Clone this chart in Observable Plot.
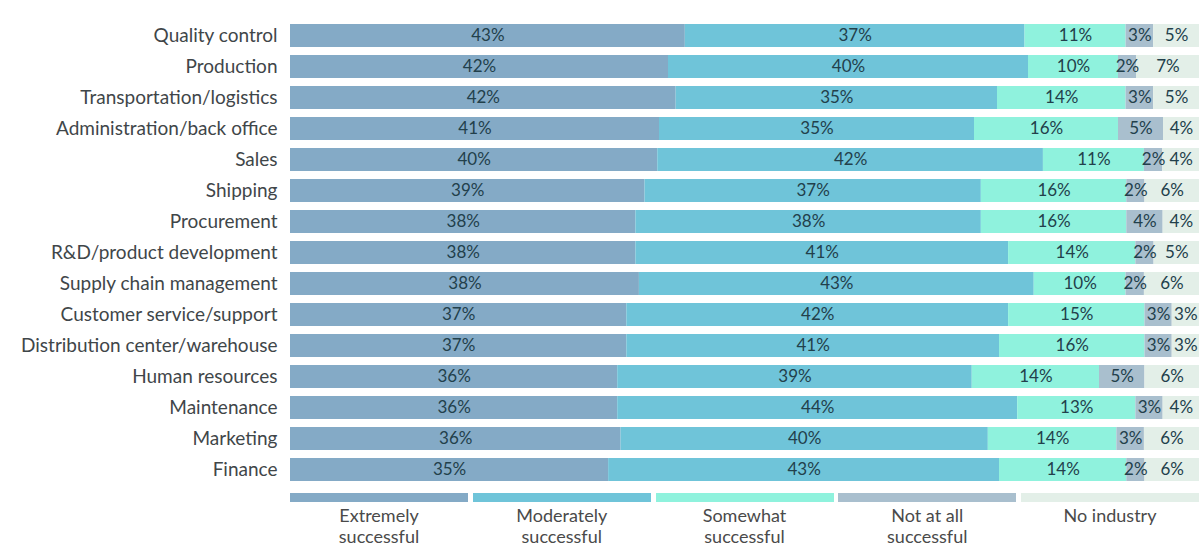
<!DOCTYPE html>
<html>
<head>
<meta charset="utf-8">
<script src="https://cdn.jsdelivr.net/npm/d3@7"></script>
<script src="https://cdn.jsdelivr.net/npm/@observablehq/plot@0.6"></script>
<style>
  html, body { margin: 0; padding: 0; background: #fff; }
  body { width: 1200px; height: 555px; position: relative; overflow: hidden; font-family: Lato, "Open Sans", sans-serif; }
  #chart { position: absolute; left: 0; top: 0; }
  #legend { position: absolute; left: 290px; top: 493px; width: 909px; display: flex; justify-content: space-between; }
  .item { width: 178px; text-align: center; color: #4a4a4a; font-size: 18px; line-height: 21px; }
  .swatch { height: 9px; margin-bottom: 3px; }
</style>
</head>
<body>
<div id="chart"></div>
<div id="legend"></div>
<script>
// Business functions surveyed, top to bottom
const categories = [
  "Quality control", "Production", "Transportation/logistics", "Administration/back office",
  "Sales", "Shipping", "Procurement", "R&D/product development", "Supply chain management",
  "Customer service/support", "Distribution center/warehouse", "Human resources",
  "Maintenance", "Marketing", "Finance"
];

// Response levels, in stacking order
const series = ["Extremely successful", "Moderately successful", "Somewhat successful", "Not at all successful", "No industry"];
const legendLabels = [["Extremely", "successful"], ["Moderately", "successful"], ["Somewhat", "successful"], ["Not at all", "successful"], ["No industry"]];
const colors = ["#84aac6", "#6fc4d9", "#8ff2dd", "#a9bfce", "#e3efe8"];

// Share of respondents (%) per function
const extremely  = [43, 42, 42, 41, 40, 39, 38, 38, 38, 37, 37, 36, 36, 36, 35];
const moderately = [37, 40, 35, 35, 42, 37, 38, 41, 43, 42, 41, 39, 44, 40, 43];
const somewhat   = [11, 10, 14, 16, 11, 16, 16, 14, 10, 15, 16, 14, 13, 14, 14];
const notAtAll   = [ 3,  2,  3,  5,  2,  2,  4,  2,  2,  3,  3,  5,  3,  3,  2];
const noIndustry = [ 5,  7,  5,  4,  4,  6,  4,  5,  6,  3,  3,  6,  4,  6,  6];

const columns = [extremely, moderately, somewhat, notAtAll, noIndustry];
const rows = [];
categories.forEach((category, i) => {
  series.forEach((s, j) => rows.push({category, series: s, value: columns[j][i]}));
});

const stack = (extra) => Plot.stackX({
  x: "value", y: "category", z: "series", offset: "normalize", ...extra
});

const chart = Plot.plot({
  width: 1200,
  height: 492,
  marginLeft: 290,
  marginRight: 1,
  marginTop: 14,
  marginBottom: 0,
  style: {fontFamily: "Lato, 'Open Sans', sans-serif", background: "transparent"},
  x: {axis: null},
  y: {domain: categories, padding: 0.25, label: null},
  color: {domain: series, range: colors},
  marks: [
    Plot.barX(rows, stack({fill: "series"})),
    Plot.text(rows, stack({text: d => `${d.value}%`, fill: "#22404b", fontSize: 17})),
    Plot.axisY({tickSize: 0, tickPadding: 13, fontSize: 19, fill: "#3f4649", label: null})
  ]
});
document.getElementById("chart").append(chart);

// Legend row under the bars
const legend = document.getElementById("legend");
series.forEach((s, j) => {
  const item = document.createElement("div");
  item.className = "item";
  const sw = document.createElement("div");
  sw.className = "swatch";
  sw.style.background = colors[j];
  item.append(sw);
  legendLabels[j].forEach(line => {
    const t = document.createElement("div");
    t.textContent = line;
    item.append(t);
  });
  legend.append(item);
});
</script>
</body>
</html>
